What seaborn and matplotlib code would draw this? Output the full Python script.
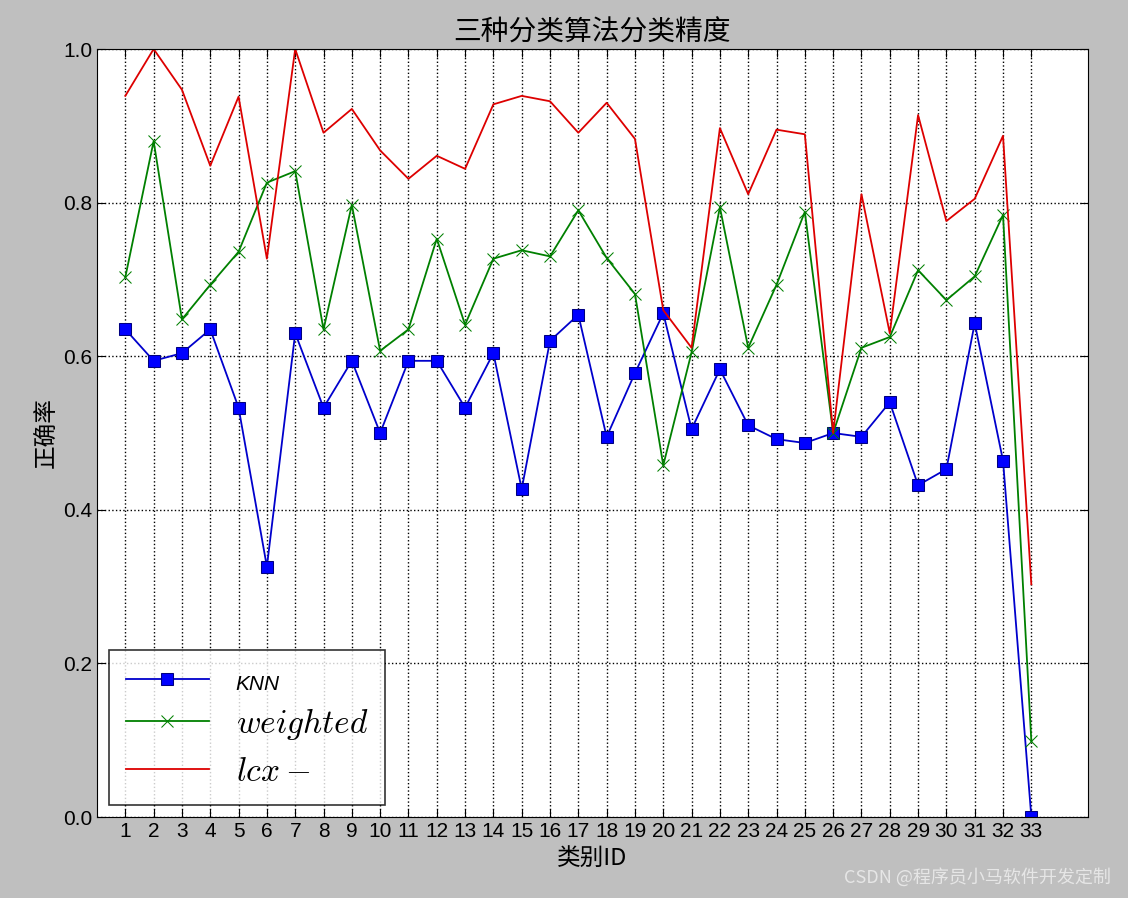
import numpy as np
import pandas as pd
import matplotlib
matplotlib.use('Agg')
import matplotlib.pyplot as plt
import seaborn as sns

plt.rcParams['font.family'] = ['Noto Sans CJK SC', 'DejaVu Sans']
plt.rcParams['axes.unicode_minus'] = False
plt.rcParams['mathtext.fontset'] = 'cm'

class_ids = list(range(1, 34))
knn = [0.635, 0.594, 0.604, 0.635, 0.533, 0.326, 0.630, 0.533, 0.594, 0.500,
       0.594, 0.594, 0.533, 0.604, 0.427, 0.620, 0.654, 0.495, 0.578, 0.656,
       0.505, 0.583, 0.510, 0.492, 0.487, 0.500, 0.495, 0.540, 0.432, 0.453,
       0.643, 0.464, 0.000]
weighted = [0.703, 0.880, 0.648, 0.693, 0.736, 0.826, 0.841, 0.635, 0.797, 0.607,
            0.635, 0.753, 0.641, 0.727, 0.738, 0.730, 0.790, 0.728, 0.681, 0.458,
            0.605, 0.794, 0.611, 0.693, 0.788, 0.500, 0.611, 0.625, 0.712, 0.673,
            0.704, 0.784, 0.099]
lcx = [0.939, 1.000, 0.947, 0.848, 0.938, 0.727, 1.000, 0.891, 0.922, 0.868,
       0.831, 0.861, 0.844, 0.928, 0.939, 0.932, 0.891, 0.930, 0.883, 0.660,
       0.611, 0.897, 0.811, 0.895, 0.889, 0.500, 0.811, 0.630, 0.914, 0.776,
       0.805, 0.887, 0.303]

df = pd.DataFrame({'id': class_ids, 'knn': knn, 'weighted': weighted, 'lcx': lcx})

fig = plt.figure(figsize=(11.28, 8.98), dpi=100)
fig.patch.set_facecolor('#bfbfbf')
ax = fig.add_axes([0.086, 0.0902, 0.8785, 0.8552])
ax.set_facecolor('white')

sns.lineplot(data=df, x='id', y='knn', ax=ax, color='#0000cc', marker='s', markersize=9,
             markerfacecolor='#0000ff', markeredgecolor='#000080', linewidth=1.3, label='KNN')
sns.lineplot(data=df, x='id', y='weighted', ax=ax, color='#008000', marker='x', markersize=9,
             markeredgecolor='#008000', linewidth=1.3, label='$weighted$')
sns.lineplot(data=df, x='id', y='lcx', ax=ax, color='#dd0000', linewidth=1.3, label='$lcx-$')

ax.set_xlim(0, 35)
ax.set_ylim(0, 1.0)
ax.set_xticks(class_ids)
ax.set_xticklabels([str(i) for i in class_ids], fontsize=15, family='Liberation Sans')
ax.set_yticks(np.arange(0, 1.01, 0.2))
ax.set_yticklabels(['%.1f' % v for v in np.arange(0, 1.01, 0.2)], fontsize=15,
                   family='Liberation Sans')
ax.grid(True, linestyle=':', color='black', linewidth=1)
for s in ax.spines.values():
    s.set_color('black')
ax.tick_params(direction='in', length=6, top=True, right=True)

ax.set_title('三种分类算法分类精度', fontsize=20)
ax.set_xlabel('类别ID', fontsize=17)
ax.set_ylabel('正确率', fontsize=17)

leg = ax.legend(loc='lower left', fontsize=24, frameon=True, fancybox=False,
                edgecolor='black', handlelength=2.5, borderpad=0.5, labelspacing=0.35,
                bbox_to_anchor=(0.012, 0.015), borderaxespad=0)
leg.get_frame().set_linewidth(1.2)
leg.get_texts()[0].set_fontsize(15)
leg.get_texts()[0].set_style('italic')
leg.get_texts()[0].set_family('Liberation Sans')

fig.text(0.985, 0.012, 'CSDN @程序员小马软件开发定制', ha='right', va='bottom',
         fontsize=13, color='#f0f0f0', alpha=0.8)

fig.savefig('out.png', dpi=100, facecolor=fig.get_facecolor())
